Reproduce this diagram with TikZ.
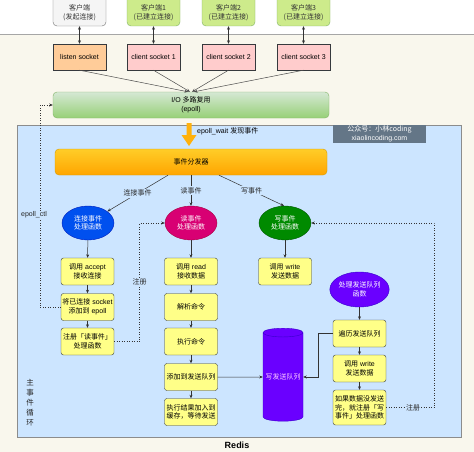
\documentclass[tikz,border=0pt]{standalone}
\usepackage{fontspec}
\setmainfont{Liberation Sans}
\newfontfamily\cjk{Noto Sans CJK SC}
\usetikzlibrary{shapes.geometric,arrows.meta}
\newcommand{\zh}[1]{{\cjk #1}}
\newcommand{\smallfs}{\fontsize{7}{8.5}\selectfont}
\definecolor{bluebg}{HTML}{CCE5FF}
\definecolor{beigebg}{HTML}{F9F7ED}
\definecolor{yfill}{HTML}{FFFF88}
\definecolor{ystroke}{HTML}{36393D}
\definecolor{cgray}{HTML}{F5F5F5}
\definecolor{cgreen}{HTML}{CDEB8B}
\definecolor{cgreenst}{HTML}{82B366}
\definecolor{sorange}{HTML}{FFCC99}
\definecolor{spink}{HTML}{FFCCCC}
\definecolor{eblue}{HTML}{0050EF}
\definecolor{ebluest}{HTML}{001DBC}
\definecolor{emag}{HTML}{D80073}
\definecolor{emagst}{HTML}{A50040}
\definecolor{egreen}{HTML}{008A00}
\definecolor{egreenst}{HTML}{005700}
\definecolor{epurple}{HTML}{6A00FF}
\definecolor{epurplest}{HTML}{3700CC}
\definecolor{wmgray}{HTML}{647687}
\definecolor{iotop}{HTML}{D5E8D4}
\definecolor{iobot}{HTML}{97D077}
\definecolor{ortop}{HTML}{FFCD28}
\definecolor{orbot}{HTML}{FFA500}
\definecolor{orst}{HTML}{D79B00}
\definecolor{cyltext}{HTML}{FFCCFF}
\tikzset{
  conn/.style={draw=black!80, line width=0.5pt, -{Stealth[length=3.5pt,width=3pt]}},
  dconn/.style={conn, dotted, line width=0.6pt},
  biarr/.style={draw=black!80, line width=0.5pt, {Stealth[length=3.5pt,width=3pt]}-{Stealth[length=3.5pt,width=3pt]}},
  clientbox/.style={draw, rounded corners=4pt, minimum width=53pt, minimum height=34pt, inner sep=0pt},
  ctext/.style={align=center, font=\smallfs, text=black!80, inner sep=0pt},
  sockbox/.style={draw=ystroke, minimum width=53pt, minimum height=26pt, font=\smallfs, inner sep=0pt},
  ybox/.style={draw=ystroke, fill=yfill, rounded corners=2.5pt, minimum width=53pt, minimum height=27pt, align=center, inner sep=1pt, font=\smallfs},
  ell/.style={ellipse, minimum width=52pt, minimum height=34pt, inner sep=0pt, text=white, align=center, font=\smallfs},
  lbl/.style={fill=bluebg, inner sep=1pt, font=\smallfs, text=black!85},
}
\begin{document}
\begin{tikzpicture}[x=1pt,y=-1pt]
\clip (0,0) rectangle (474,452);
\fill[white] (0,0) rectangle (474,452);
\draw[fill=beigebg, draw=black!35] (-2,34.5) rectangle (476,456);

% clients
\node[clientbox, fill=cgray, draw=black!55] (k0) at (79.5,9) {};
\node[ctext] (kt0) at (79.5,12.5) {\zh{客户端}\\\zh{(发起连接)}};
\node[clientbox, fill=cgreen, draw=cgreenst] (k1) at (153.5,9) {};
\node[ctext] (kt1) at (153.5,12.5) {\zh{客户端1}\\\zh{(已建立连接)}};
\node[clientbox, fill=cgreen, draw=cgreenst] (k2) at (228.5,9) {};
\node[ctext] (kt2) at (228.5,12.5) {\zh{客户端2}\\\zh{(已建立连接)}};
\node[clientbox, fill=cgreen, draw=cgreenst] (k3) at (303.5,9) {};
\node[ctext] (kt3) at (303.5,12.5) {\zh{客户端3}\\\zh{(已建立连接)}};

% sockets
\node[sockbox, fill=sorange] (s0) at (79.5,57) {listen socket};
\node[sockbox, fill=spink] (s1) at (153.5,57) {client socket 1};
\node[sockbox, fill=spink] (s2) at (228.5,57) {client socket 2};
\node[sockbox, fill=spink] (s3) at (303.5,57) {client socket 3};

\draw[biarr] (k0.south) -- (s0.north);
\draw[biarr] (k1.south) -- (s1.north);
\draw[biarr] (k2.south) -- (s2.north);
\draw[biarr] (k3.south) -- (s3.north);

% IO
\node[draw=cgreenst, top color=iotop, bottom color=iobot, rounded corners=4pt, minimum width=276pt, minimum height=26pt, align=center, font=\smallfs, inner sep=0pt] (io) at (191,105) {I/O \zh{多路复用}\\(epoll)};

\draw[conn, draw=black!70] (s0.south) -- ([xshift=-3pt]io.north);
\draw[conn, draw=black!70] (s1.south) -- ([xshift=-1pt]io.north);
\draw[conn, draw=black!70] (s2.south) -- ([xshift=1pt]io.north);
\draw[conn, draw=black!70] (s3.south) -- ([xshift=3pt]io.north);

% main loop box
\draw[fill=bluebg, draw=black!45] (17,125) rectangle (461,437);
\node[fill=wmgray, text=white, minimum width=93pt, minimum height=18pt, align=center, inner sep=0pt, font=\smallfs] (wm) at (379.5,134) {\zh{公众号：小林coding}\\xiaolincoding.com};

% orange arrow
\fill[orbot!70!ortop] (186.5,123) -- (191.5,123) -- (191.5,135) -- (196.5,135) -- (189,146) -- (181.5,135) -- (186.5,135) -- cycle;
\node[anchor=west, font=\smallfs, inner sep=0pt] (ew) at (197,131) {epoll\_wait \zh{发现事件}};

% dispatcher
\node[draw=orst, top color=ortop, bottom color=orbot, rounded corners=4pt, minimum width=272pt, minimum height=26pt, font=\smallfs, inner sep=0pt] (disp) at (191,162) {\zh{事件分发器}};

% ellipses
\node[ell, fill=eblue, draw=ebluest] (e1) at (88,223) {\zh{连接事件}\\\zh{处理函数}};
\node[ell, fill=emag, draw=emagst] (e2) at (191,223) {\zh{读事件}\\\zh{处理函数}};
\node[ell, fill=egreen, draw=egreenst] (e3) at (285,223) {\zh{写事件}\\\zh{处理函数}};

\draw[conn] ([xshift=-23pt]disp.south) -- node[lbl]{\zh{连接事件}} (e1);
\draw[conn] (disp.south) -- node[lbl]{\zh{读事件}} (e2.north);
\draw[conn] ([xshift=28pt]disp.south) -- node[lbl]{\zh{写事件}} ([xshift=-1pt]e3.north);

% left column
\node[ybox] (a1) at (87.5,271.5) {\zh{调用} accept\\\zh{接收连接}};
\node[ybox] (a2) at (87.5,307) {\zh{将已连接} socket\\\zh{添加到} epoll};
\node[ybox] (a3) at (87.5,341.5) {\zh{注册「读事件」}\\\zh{处理函数}};
\draw[conn] (e1) -- (a1);
\draw[conn] (a1) -- (a2);
\draw[conn] (a2) -- (a3);

% middle column
\node[ybox] (b1) at (191,271.5) {\zh{调用} read\\\zh{接收数据}};
\node[ybox] (b2) at (191,307) {\zh{解析命令}};
\node[ybox] (b3) at (191,341.5) {\zh{执行命令}};
\node[ybox] (b4) at (191,377) {\zh{添加到发送队列}};
\node[ybox] (b5) at (191,412) {\zh{执行结果加入到}\\\zh{缓存，等待发送}};
\draw[conn] (e2) -- (b1);
\draw[conn] (b1) -- (b2);
\draw[conn] (b2) -- (b3);
\draw[conn] (b3) -- (b4);
\draw[conn] (b4) -- (b5);

% write handler
\node[ybox] (c1) at (285,271.5) {\zh{调用} write\\\zh{发送数据}};
\draw[conn] (e3) -- (c1);

% send queue handler
\node[ell, fill=epurple, draw=epurplest, minimum width=53pt, minimum height=35pt] (p) at (359.5,289.5) {\zh{处理发送队列}\\\zh{函数}};
\node[ybox] (d1) at (359.5,333.5) {\zh{遍历发送队列}};
\node[ybox] (d2) at (359.5,368.5) {\zh{调用} write\\\zh{发送数据}};
\node[ybox, minimum height=35pt] (d3) at (359.5,407.5) {\zh{如果数据没发送}\\\zh{完，就注册「写}\\\zh{事件」处理函数}};
\draw[conn] (p) -- (d1);
\draw[conn] (d1) -- (d2);
\draw[conn] (d2) -- (d3);

% cylinder
\node[cylinder, shape border rotate=90, aspect=0.25, draw=epurplest, fill=epurple, minimum width=40pt, minimum height=93pt, inner sep=0pt, text=cyltext, font=\smallfs] (q) at (283,377) {\zh{写发送队列}};
\draw[conn] (b4.east) -- (q);
\draw[conn] (d1.west) -- ++(-15,0) |- (q);

% dotted registrations
\draw[dconn] (a2.west) -- ++(-21,0) |- (io.west);
\node[lbl] (ctl) at (34,215) {epoll\_ctl};
\draw[dconn] (a3.east) -- ++(25.5,0) |- (e2.west);
\node[lbl] (reg1) at (139.5,282) {\zh{注册}};
\draw[dconn] (d3.east) -- ++(48,0) |- (e3.east);
\node[lbl] (reg2) at (413,407.5) {\zh{注册}};

% labels
\node[align=center, font=\fontsize{7.5}{10}\selectfont, text=black!85, inner sep=0pt] (ml) at (30,403) {\zh{主}\\\zh{事}\\\zh{件}\\\zh{循}\\\zh{环}};
\node[font=\fontsize{9}{10}\selectfont\bfseries, inner sep=0pt] (rd) at (237,445) {Redis};
\end{tikzpicture}
\end{document}
